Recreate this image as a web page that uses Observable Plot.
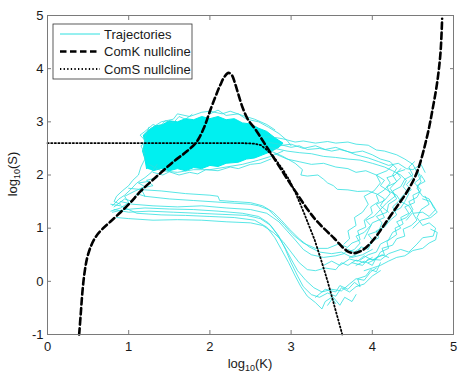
<!DOCTYPE html>
<html>
<head>
<meta charset="utf-8">
<script src="https://cdn.jsdelivr.net/npm/d3@7"></script>
<script src="https://cdn.jsdelivr.net/npm/@observablehq/plot@0.6"></script>
<style>
  html, body { margin: 0; padding: 0; background: white; }
  #chart svg { display: block; }
</style>
</head>
<body>
<div id="chart"></div>
<script>
// ---------- data ----------
const xTicks = [0, 1, 2, 3, 4, 5];
const yTicks = [-1, 0, 1, 2, 3, 4, 5];

const comK = [[0.39,-1],[0.41,-0.6],[0.43,-0.2],[0.455,0.15],[0.49,0.45],[0.54,0.68],[0.6,0.85],[0.68,0.99],[0.78,1.13],[0.9,1.3],[1.02,1.48],[1.15,1.7],[1.35,1.98],[1.55,2.25],[1.72,2.45],[1.84,2.63],[1.93,2.9],[2.0,3.2],[2.07,3.48],[2.13,3.7],[2.18,3.85],[2.23,3.92],[2.27,3.88],[2.31,3.72],[2.35,3.52],[2.4,3.28],[2.47,3.04],[2.55,2.88],[2.67,2.6],[2.83,2.22],[3.04,1.72],[3.29,1.18],[3.53,0.81],[3.69,0.57],[3.78,0.53],[3.86,0.57],[3.94,0.66],[4.05,0.85],[4.15,1.07],[4.3,1.4],[4.43,1.69],[4.55,2.05],[4.68,2.76],[4.75,3.3],[4.8,3.75],[4.84,4.3],[4.86,4.94]];

const comS = [[0,2.6],[0.5,2.6],[1,2.6],[1.5,2.6],[2,2.6],[2.4,2.6],[2.55,2.59],[2.63,2.56],[2.71,2.46],[2.8,2.31],[2.9,2.1],[2.98,1.9],[3.05,1.68],[3.15,1.32],[3.22,1.05],[3.29,0.78],[3.37,0.4],[3.45,0.0],[3.54,-0.5],[3.63,-1.0]];

// dense cluster of trajectories (outline)
const blob = [[1.22,2.12],[1.2,2.3],[1.17,2.45],[1.2,2.6],[1.18,2.75],[1.25,2.85],[1.32,2.92],[1.42,2.95],[1.5,3.02],[1.6,3.0],[1.7,3.06],[1.8,3.04],[1.9,3.1],[2.0,3.06],[2.1,3.1],[2.2,3.04],[2.3,3.06],[2.4,2.98],[2.5,2.96],[2.6,2.88],[2.7,2.82],[2.8,2.7],[2.9,2.6],[2.85,2.52],[2.75,2.44],[2.65,2.38],[2.55,2.32],[2.45,2.3],[2.35,2.24],[2.2,2.22],[2.1,2.16],[2.0,2.18],[1.9,2.12],[1.8,2.14],[1.7,2.08],[1.6,2.12],[1.5,2.08],[1.4,2.12],[1.3,2.08]];

// individual trajectories
const trajL1 = [[0.8,1.3],[0.95,1.35],[1.2,1.38],[1.5,1.36],[1.8,1.35],[2.1,1.32],[2.4,1.28],[2.6,1.22],[2.72,1.1],[2.82,0.9],[2.92,0.65],[3.0,0.42],[3.08,0.2],[3.18,0.02],[3.28,-0.12],[3.38,-0.2],[3.5,-0.15],[3.62,-0.18],[3.72,-0.05],[3.8,0.05],[3.9,0.02],[3.98,0.18],[4.05,0.25]];
const trajL2 = [[0.78,1.45],[0.9,1.42],[1.1,1.28],[1.4,1.25],[1.7,1.24],[2.0,1.22],[2.3,1.2],[2.55,1.15],[2.7,1.02],[2.8,0.82],[2.88,0.6],[2.97,0.35],[3.05,0.1],[3.12,-0.1],[3.2,-0.28],[3.3,-0.4],[3.38,-0.52],[3.42,-0.38],[3.5,-0.3],[3.55,-0.42]];
const trajL3 = [[0.85,1.2],[1.0,1.18],[1.3,1.15],[1.6,1.16],[1.9,1.15],[2.2,1.12],[2.5,1.1],[2.65,1.05],[2.78,0.92],[2.9,0.75],[3.0,0.55],[3.1,0.35],[3.2,0.22],[3.3,0.2],[3.42,0.25],[3.55,0.22],[3.62,0.35],[3.7,0.3],[3.8,0.4],[3.9,0.35],[4.0,0.45]];
const trajL4 = [[0.9,1.5],[1.05,1.45],[1.3,1.42],[1.6,1.4],[1.9,1.42],[2.2,1.38],[2.5,1.35],[2.7,1.28],[2.85,1.12],[2.95,0.95],[3.05,0.78],[3.15,0.6],[3.25,0.5],[3.4,0.45],[3.55,0.48],[3.65,0.52],[3.7,0.6],[3.78,0.55],[3.85,0.62]];
const trajL5 = [[1.0,1.75],[1.2,1.72],[1.4,1.7],[1.7,1.65],[2.0,1.62],[2.1,1.6],[2.12,1.52],[2.3,1.5],[2.5,1.48],[2.65,1.42],[2.78,1.3],[2.88,1.15],[2.98,0.98],[3.1,0.8],[3.22,0.65],[3.35,0.55],[3.5,0.52],[3.62,0.55],[3.75,0.45],[3.88,0.5],[4.0,0.6]];
const trajL6 = [[0.82,1.35],[1.0,1.3],[1.25,1.32],[1.55,1.3],[1.85,1.28],[2.15,1.26],[2.45,1.24],[2.62,1.18],[2.75,1.05],[2.85,0.85],[2.93,0.6],[3.0,0.35],[3.08,0.1],[3.15,-0.1],[3.25,-0.25],[3.35,-0.3],[3.45,-0.22],[3.55,-0.28],[3.62,-0.12],[3.72,-0.2],[3.8,-0.1],[3.9,-0.05],[4.0,0.1],[4.1,0.2]];
const trajL7 = [[1.2,1.6],[1.5,1.55],[1.8,1.52],[2.2,1.48],[2.5,1.45],[2.6,1.42],[2.72,1.35],[2.82,1.2],[2.92,1.05],[3.02,0.88],[3.15,0.72],[3.3,0.62],[3.45,0.62],[3.58,0.7],[3.68,0.65]];
const trajU1 = [[2.6,2.7],[2.75,2.72],[2.9,2.68],[3.05,2.62],[3.15,2.64],[3.3,2.6],[3.45,2.63],[3.55,2.6],[3.7,2.62],[3.8,2.58],[3.95,2.56],[4.05,2.47],[4.15,2.45],[4.3,2.38],[4.4,2.3],[4.5,2.2],[4.55,2.05],[4.6,1.88],[4.55,1.75],[4.62,1.6],[4.7,1.55],[4.75,1.4],[4.8,1.3],[4.72,1.2],[4.6,1.15],[4.5,1.0]];
const trajU2 = [[2.6,2.55],[2.8,2.5],[2.95,2.45],[3.1,2.42],[3.25,2.4],[3.4,2.35],[3.55,2.33],[3.7,2.3],[3.85,2.28],[4.0,2.22],[4.15,2.15],[4.25,2.08],[4.35,2.0],[4.42,1.9],[4.38,1.78],[4.45,1.65],[4.4,1.5],[4.35,1.38],[4.25,1.3],[4.2,1.15],[4.12,1.0],[4.05,0.85],[3.98,0.7]];
const trajU3 = [[2.7,2.62],[2.85,2.58],[3.0,2.52],[3.1,2.55],[3.2,2.48],[3.35,2.5],[3.5,2.45],[3.6,2.48],[3.75,2.42],[3.88,2.45],[4.0,2.38],[4.1,2.3],[4.22,2.25],[4.3,2.12],[4.25,2.0],[4.3,1.88],[4.22,1.75],[4.28,1.6],[4.18,1.48],[4.1,1.35],[4.15,1.2],[4.0,1.1],[3.95,0.95],[3.9,0.8]];
const trajU4 = [[2.75,2.45],[2.9,2.35],[3.05,2.22],[3.14,2.1],[3.12,2.0],[3.2,1.98],[3.33,2.0],[3.4,1.92],[3.45,1.85],[3.52,1.8],[3.57,1.73],[3.7,1.72],[3.82,1.69],[3.95,1.7],[4.06,1.64],[4.15,1.55],[4.1,1.42],[4.2,1.3]];
const trajU5 = [[2.8,2.4],[2.95,2.3],[3.1,2.25],[3.25,2.2],[3.4,2.22],[3.55,2.15],[3.7,2.12],[3.8,2.05],[3.92,2.08],[4.05,2.0],[4.15,1.9],[4.1,1.8],[4.2,1.7],[4.3,1.62],[4.35,1.5],[4.45,1.42],[4.5,1.3],[4.42,1.15]];
const trajU6 = [[2.85,2.55],[3.0,2.58],[3.15,2.5],[3.3,2.55],[3.42,2.48],[3.55,2.52],[3.68,2.45],[3.8,2.38],[3.95,2.32],[4.08,2.25],[4.2,2.18],[4.32,2.22],[4.42,2.12],[4.5,2.1],[4.6,2.2],[4.65,2.05]];
const trajR1 = [[3.7,0.55],[3.78,0.6],[3.85,0.72],[3.8,0.85],[3.9,0.92],[3.98,1.05],[3.92,1.15],[4.02,1.22],[4.1,1.35],[4.05,1.45],[4.15,1.52],[4.22,1.65],[4.18,1.78],[4.28,1.85],[4.35,1.95],[4.3,2.05],[4.4,2.1]];
const trajR2 = [[3.85,0.4],[3.95,0.5],[4.05,0.55],[4.1,0.7],[4.2,0.78],[4.25,0.92],[4.35,1.0],[4.3,1.12],[4.42,1.2],[4.5,1.35],[4.45,1.5],[4.55,1.58],[4.6,1.72],[4.52,1.85],[4.6,1.95],[4.55,2.1]];
const trajR3 = [[3.75,0.35],[3.88,0.3],[3.95,0.42],[4.1,0.4],[4.2,0.52],[4.35,0.6],[4.45,0.55],[4.55,0.7],[4.62,0.82],[4.75,0.85],[4.78,1.0],[4.7,1.1],[4.62,1.05],[4.55,1.2],[4.6,1.35],[4.7,1.45],[4.65,1.6]];
const trajR4 = [[3.65,0.7],[3.72,0.8],[3.7,0.95],[3.8,1.05],[3.78,1.2],[3.88,1.3],[3.95,1.45],[3.9,1.6],[4.02,1.7],[4.1,1.85],[4.05,2.0],[4.18,2.08],[4.25,2.18]];
const trajR5 = [[3.9,0.6],[4.0,0.75],[4.08,0.82],[4.05,0.95],[4.15,1.02],[4.22,1.15],[4.3,1.25],[4.25,1.4],[4.32,1.5],[4.38,1.62],[4.48,1.72],[4.42,1.82],[4.5,1.95],[4.45,2.05]];
const trajR6 = [[3.72,0.45],[3.8,0.5],[3.86,0.65],[3.95,0.6],[4.0,0.78],[3.95,0.88],[4.08,0.95],[4.12,1.1],[4.05,1.22],[4.18,1.3],[4.2,1.45],[4.3,1.55],[4.25,1.7],[4.35,1.78],[4.4,1.92],[4.5,2.0],[4.45,2.15],[4.52,2.25]];
const trajR7 = [[3.8,0.3],[3.9,0.38],[4.0,0.3],[4.05,0.45],[4.15,0.5],[4.12,0.62],[4.25,0.68],[4.3,0.8],[4.4,0.85],[4.38,0.98],[4.48,1.05],[4.55,1.15],[4.5,1.28],[4.62,1.3],[4.7,1.22],[4.78,1.35],[4.72,1.5],[4.62,1.55]];
const trajR8 = [[3.68,0.62],[3.75,0.72],[3.85,0.78],[3.82,0.95],[3.92,1.02],[3.9,1.15],[4.0,1.28],[3.98,1.4],[4.08,1.5],[4.05,1.62],[4.15,1.72],[4.22,1.85],[4.18,1.95],[4.28,2.0],[4.35,2.12]];
const trajR9 = [[3.95,0.35],[4.05,0.42],[4.1,0.55],[4.2,0.62],[4.18,0.75],[4.3,0.88],[4.28,1.0],[4.38,1.08],[4.35,1.2],[4.45,1.28],[4.4,1.4],[4.52,1.48],[4.5,1.62],[4.58,1.68],[4.55,1.8],[4.65,1.88],[4.6,2.0]];
const trajR10 = [[3.9,0.2],[4.0,0.25],[4.1,0.3],[4.2,0.38],[4.3,0.45],[4.4,0.48],[4.5,0.58],[4.62,0.62],[4.7,0.72],[4.78,0.78],[4.8,0.92],[4.72,0.98]];
const trajB1 = [[1.25,2.9],[1.2,2.7],[1.18,2.5],[1.2,2.3],[1.15,2.15],[1.12,2.0],[1.05,1.9],[1.0,1.8],[0.92,1.7],[0.85,1.6],[0.82,1.5],[0.9,1.45]];
const trajB2 = [[1.35,2.2],[1.28,2.05],[1.2,1.95],[1.1,1.85],[1.02,1.72],[0.95,1.62],[0.88,1.55],[0.8,1.42]];
const trajB3 = [[1.25,2.85],[1.4,3.0],[1.55,3.05],[1.6,3.15],[1.75,3.1],[1.9,3.18],[2.0,3.2],[2.15,3.15],[2.25,3.2],[2.4,3.12],[2.55,3.05],[2.7,2.95],[2.8,2.85]];
const trajB4 = [[1.25,2.2],[1.4,2.08],[1.6,2.05],[1.8,2.1],[2.0,2.1],[2.2,2.15],[2.4,2.2],[2.6,2.28],[2.75,2.35],[2.9,2.45]];
const trajB5 = [[1.2,2.4],[1.15,2.55],[1.22,2.62],[1.14,2.75],[1.2,2.82],[1.3,2.95],[1.38,2.9],[1.45,3.02],[1.55,2.98],[1.62,3.1],[1.7,3.05],[1.78,3.14]];
const trajB6 = [[1.3,2.05],[1.42,2.0],[1.5,2.06],[1.62,2.0],[1.75,2.05],[1.85,2.02],[1.95,2.1],[2.1,2.08],[2.25,2.15],[2.35,2.12],[2.5,2.2],[2.62,2.22],[2.75,2.3]];
const trajB7 = [[2.0,3.15],[2.1,3.22],[2.2,3.12],[2.35,3.15],[2.45,3.05],[2.6,3.0],[2.72,2.9],[2.85,2.78],[2.95,2.65],[3.0,2.55]];
const trajC1 = [[0.82,1.4],[0.95,1.55],[1.05,1.5],[1.1,1.65],[1.2,1.6],[1.15,1.75],[1.3,1.8],[1.22,1.9],[1.35,1.95]];
const trajC2 = [[0.78,1.32],[0.9,1.38],[1.0,1.48],[0.95,1.6],[1.08,1.7],[1.2,1.78],[1.12,1.85],[1.25,1.88]];
const trajD1 = [[3.3,-0.3],[3.42,-0.15],[3.55,-0.2],[3.6,-0.08],[3.7,-0.15],[3.78,-0.02],[3.85,-0.1],[3.82,0.05],[3.92,0.1],[3.98,0.22],[4.05,0.18],[4.1,0.35]];
const trajD2 = [[3.45,-0.45],[3.52,-0.3],[3.6,-0.45],[3.66,-0.3],[3.75,-0.38],[3.8,-0.25]];
const trajD3 = [[3.4,0.3],[3.5,0.38],[3.6,0.3],[3.72,0.42],[3.82,0.38],[3.9,0.48],[4.0,0.4],[4.12,0.5],[4.2,0.45]];

const legendItems = ["Trajectories", "ComK nullcline", "ComS nullcline"];

// ---------- build ----------
const trajList = [trajL1,trajL2,trajL3,trajL4,trajL5,trajL6,trajL7,trajU1,trajU2,trajU3,trajU4,trajU5,trajU6,trajR1,trajR2,trajR3,trajR4,trajR5,trajR6,trajR7,trajR8,trajR9,trajR10,trajB1,trajB2,trajB3,trajB4,trajB5,trajB6,trajB7,trajC1,trajC2,trajD1,trajD2,trajD3];
const trajRows = trajList.flatMap((t, i) => t.map(([x, y]) => ({id: i, x, y})));
const toRows = a => a.map(([x, y]) => ({x, y}));

const CYAN = "#2ee0e0";
const noLabel = () => "";
const DOT = "1.3,2.3";
const DASH = "6.5,3.5";

const chart = Plot.plot({
  width: 474,
  height: 379,
  marginLeft: 47,
  marginRight: 21,
  marginTop: 15,
  marginBottom: 45,
  x: {domain: [0, 5]},
  y: {domain: [-1, 5]},
  style: {fontFamily: "'Liberation Sans', Arial, sans-serif", fontSize: "13px", color: "#1a1a1a", background: "white"},
  marks: [
    Plot.line(toRows(blob), {x: "x", y: "y", fill: "#00f0f0", stroke: "#00eaea", strokeWidth: 1}),
    Plot.line(trajRows, {x: "x", y: "y", z: "id", stroke: CYAN, strokeWidth: 0.8}),
    Plot.line(toRows(comS), {x: "x", y: "y", stroke: "black", strokeWidth: 1.8, strokeDasharray: DOT}),
    Plot.line(toRows(comK), {x: "x", y: "y", stroke: "black", strokeWidth: 2.6, strokeDasharray: DASH, curve: "catmull-rom"}),
    Plot.frame({stroke: "#7a7a7a"}),
    Plot.axisX(xTicks, {anchor: "bottom", tickSize: 0, tickPadding: 7, label: null, tickFormat: d => String(d)}),
    Plot.axisY(yTicks, {anchor: "left", tickSize: 0, tickPadding: 4, label: null, tickFormat: d => String(d)}),
    Plot.axisX(xTicks, {anchor: "bottom", tickSize: -4, tickFormat: noLabel, label: null, stroke: "#7a7a7a"}),
    Plot.axisX(xTicks, {anchor: "top", tickSize: -4, tickFormat: noLabel, label: null, stroke: "#7a7a7a"}),
    Plot.axisY(yTicks, {anchor: "left", tickSize: -4, tickFormat: noLabel, label: null, stroke: "#7a7a7a"}),
    Plot.axisY(yTicks, {anchor: "right", tickSize: -4, tickFormat: noLabel, label: null, stroke: "#7a7a7a"})
  ]
});

document.getElementById("chart").appendChild(chart);

// ---------- axis labels with subscripts ----------
const svg = d3.select(chart);
const font = "'Liberation Sans', Arial, sans-serif";
const xl = svg.append("text").attr("x", 250).attr("y", 368).attr("text-anchor", "middle")
  .attr("font-family", font).attr("font-size", 13).attr("fill", "#1a1a1a");
xl.append("tspan").text("log");
xl.append("tspan").attr("font-size", 9).attr("dy", 3).text("10");
xl.append("tspan").attr("dy", -3).text("(K)");

const yl = svg.append("text").attr("transform", "translate(17,174) rotate(-90)").attr("text-anchor", "middle")
  .attr("font-family", font).attr("font-size", 13).attr("fill", "#1a1a1a");
yl.append("tspan").text("log");
yl.append("tspan").attr("font-size", 9).attr("dy", 3).text("10");
yl.append("tspan").attr("dy", -3).text("(S)");

// ---------- legend (inside plot, upper left) ----------
const lg = svg.append("g").attr("transform", "translate(53,24)");
lg.append("rect").attr("width", 139).attr("height", 55).attr("fill", "white").attr("stroke", "#333").attr("stroke-width", 0.8);
const styles = [
  {stroke: CYAN, width: 1, dash: null},
  {stroke: "black", width: 2.6, dash: DASH},
  {stroke: "black", width: 1.8, dash: DOT}
];
legendItems.forEach((name, i) => {
  const cy = 10 + i * 17.5;
  const s = styles[i];
  const ln = lg.append("line").attr("x1", 7).attr("x2", 47).attr("y1", cy).attr("y2", cy)
    .attr("stroke", s.stroke).attr("stroke-width", s.width);
  if (s.dash) ln.attr("stroke-dasharray", s.dash);
  lg.append("text").attr("x", 51).attr("y", cy).attr("dy", "0.35em").attr("text-anchor", "start")
    .attr("font-family", font).attr("font-size", 13).attr("fill", "#1a1a1a").text(name);
});
</script>
</body>
</html>
